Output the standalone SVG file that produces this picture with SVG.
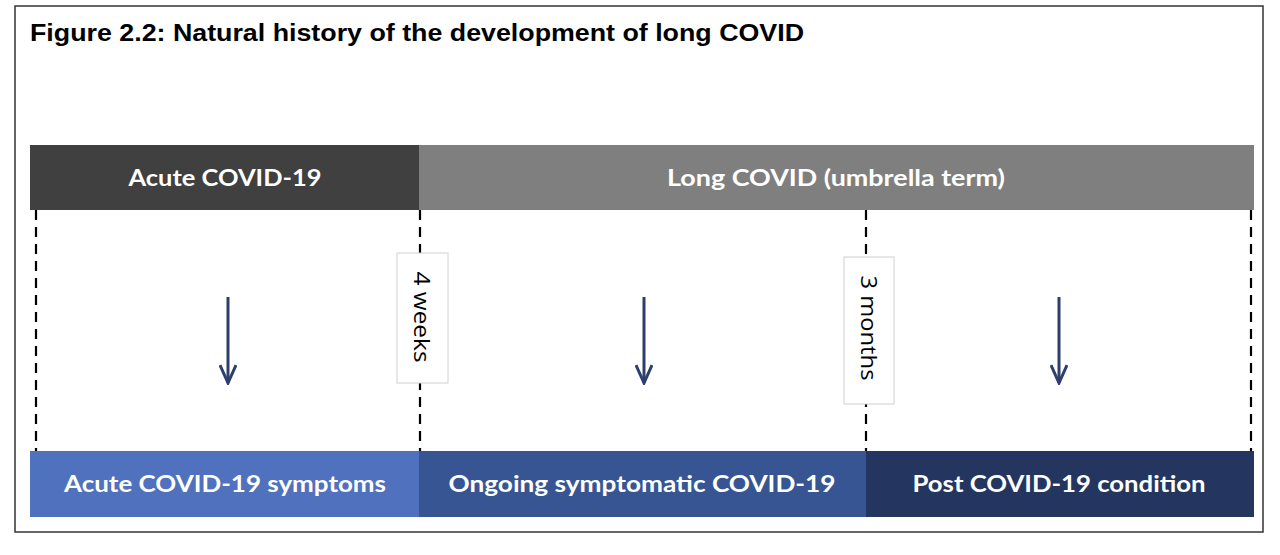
<svg xmlns="http://www.w3.org/2000/svg" width="1280" height="555" viewBox="0 0 1280 555">
<defs>
<style>
.bar{font-family:Lato,"Open Sans","Liberation Sans",sans-serif;font-weight:bold;font-size:23px;fill:#fff;text-anchor:middle}
.dash{stroke:#000;stroke-width:2.2;stroke-dasharray:10,7;fill:none}
.lbl{fill:#fff;stroke:#d0d0d0;stroke-width:1}
.lt{font-family:"Open Sans",Lato,"Liberation Sans",sans-serif;font-size:22px;fill:#000;text-anchor:middle}
.arr{stroke:#2e3e6e;stroke-width:3;fill:none}
</style>
<marker id="ah" viewBox="0 0 22 18" refX="20" refY="9" markerWidth="22" markerHeight="18" markerUnits="userSpaceOnUse" orient="auto">
<path d="M2,1 L20,9 L2,17" fill="none" stroke="#2e3e6e" stroke-width="3"/>
</marker>
</defs>
<rect x="0" y="0" width="1280" height="555" fill="#fff"/>
<rect x="15" y="6" width="1248" height="526" fill="#fff" stroke="#333" stroke-width="1.5"/>
<text x="30" y="41" font-family="Liberation Sans, Arial, sans-serif" font-weight="bold" font-size="23" fill="#000" textLength="774" lengthAdjust="spacingAndGlyphs">Figure 2.2: Natural history of the development of long COVID</text>

<g id="acute-top"><rect x="30" y="145" width="389" height="65" fill="#404040"/><text class="bar" x="225" y="186" textLength="193" lengthAdjust="spacingAndGlyphs">Acute COVID-19</text></g>
<g id="long-top"><rect x="419" y="145" width="835" height="65" fill="#7f7f7f"/><text class="bar" x="836" y="186" textLength="338" lengthAdjust="spacingAndGlyphs">Long COVID (umbrella term)</text></g>

<g id="connectors">
<line class="dash" x1="36" y1="210" x2="36" y2="451"/>
<line class="dash" x1="420" y1="210" x2="420" y2="451"/>
<line class="dash" x1="866" y1="210" x2="866" y2="451"/>
<line class="dash" x1="1251" y1="210" x2="1251" y2="451"/>
<line class="arr" x1="228" y1="297" x2="228" y2="383" marker-end="url(#ah)"/>
<line class="arr" x1="644" y1="297" x2="644" y2="383" marker-end="url(#ah)"/>
<line class="arr" x1="1059" y1="297" x2="1059" y2="383" marker-end="url(#ah)"/>
</g>

<g id="label-4weeks"><rect class="lbl" x="397" y="253" width="51" height="130"/><text class="lt" transform="translate(414,317) rotate(90)" textLength="91" lengthAdjust="spacingAndGlyphs">4 weeks</text></g>
<g id="label-3months"><rect class="lbl" x="844" y="257" width="50" height="147"/><text class="lt" transform="translate(861,328) rotate(90)" textLength="105" lengthAdjust="spacingAndGlyphs">3 months</text></g>

<g id="acute-bottom"><rect x="30" y="451" width="389" height="66" fill="#4f71be"/><text class="bar" x="225" y="492" textLength="322" lengthAdjust="spacingAndGlyphs">Acute COVID-19 symptoms</text></g>
<g id="ongoing-bottom"><rect x="419" y="451" width="447" height="66" fill="#375592"/><text class="bar" x="642" y="492" textLength="387" lengthAdjust="spacingAndGlyphs">Ongoing symptomatic COVID-19</text></g>
<g id="post-bottom"><rect x="866" y="451" width="388" height="66" fill="#243660"/><text class="bar" x="1059" y="492" textLength="293" lengthAdjust="spacingAndGlyphs">Post COVID-19 condition</text></g>
</svg>
